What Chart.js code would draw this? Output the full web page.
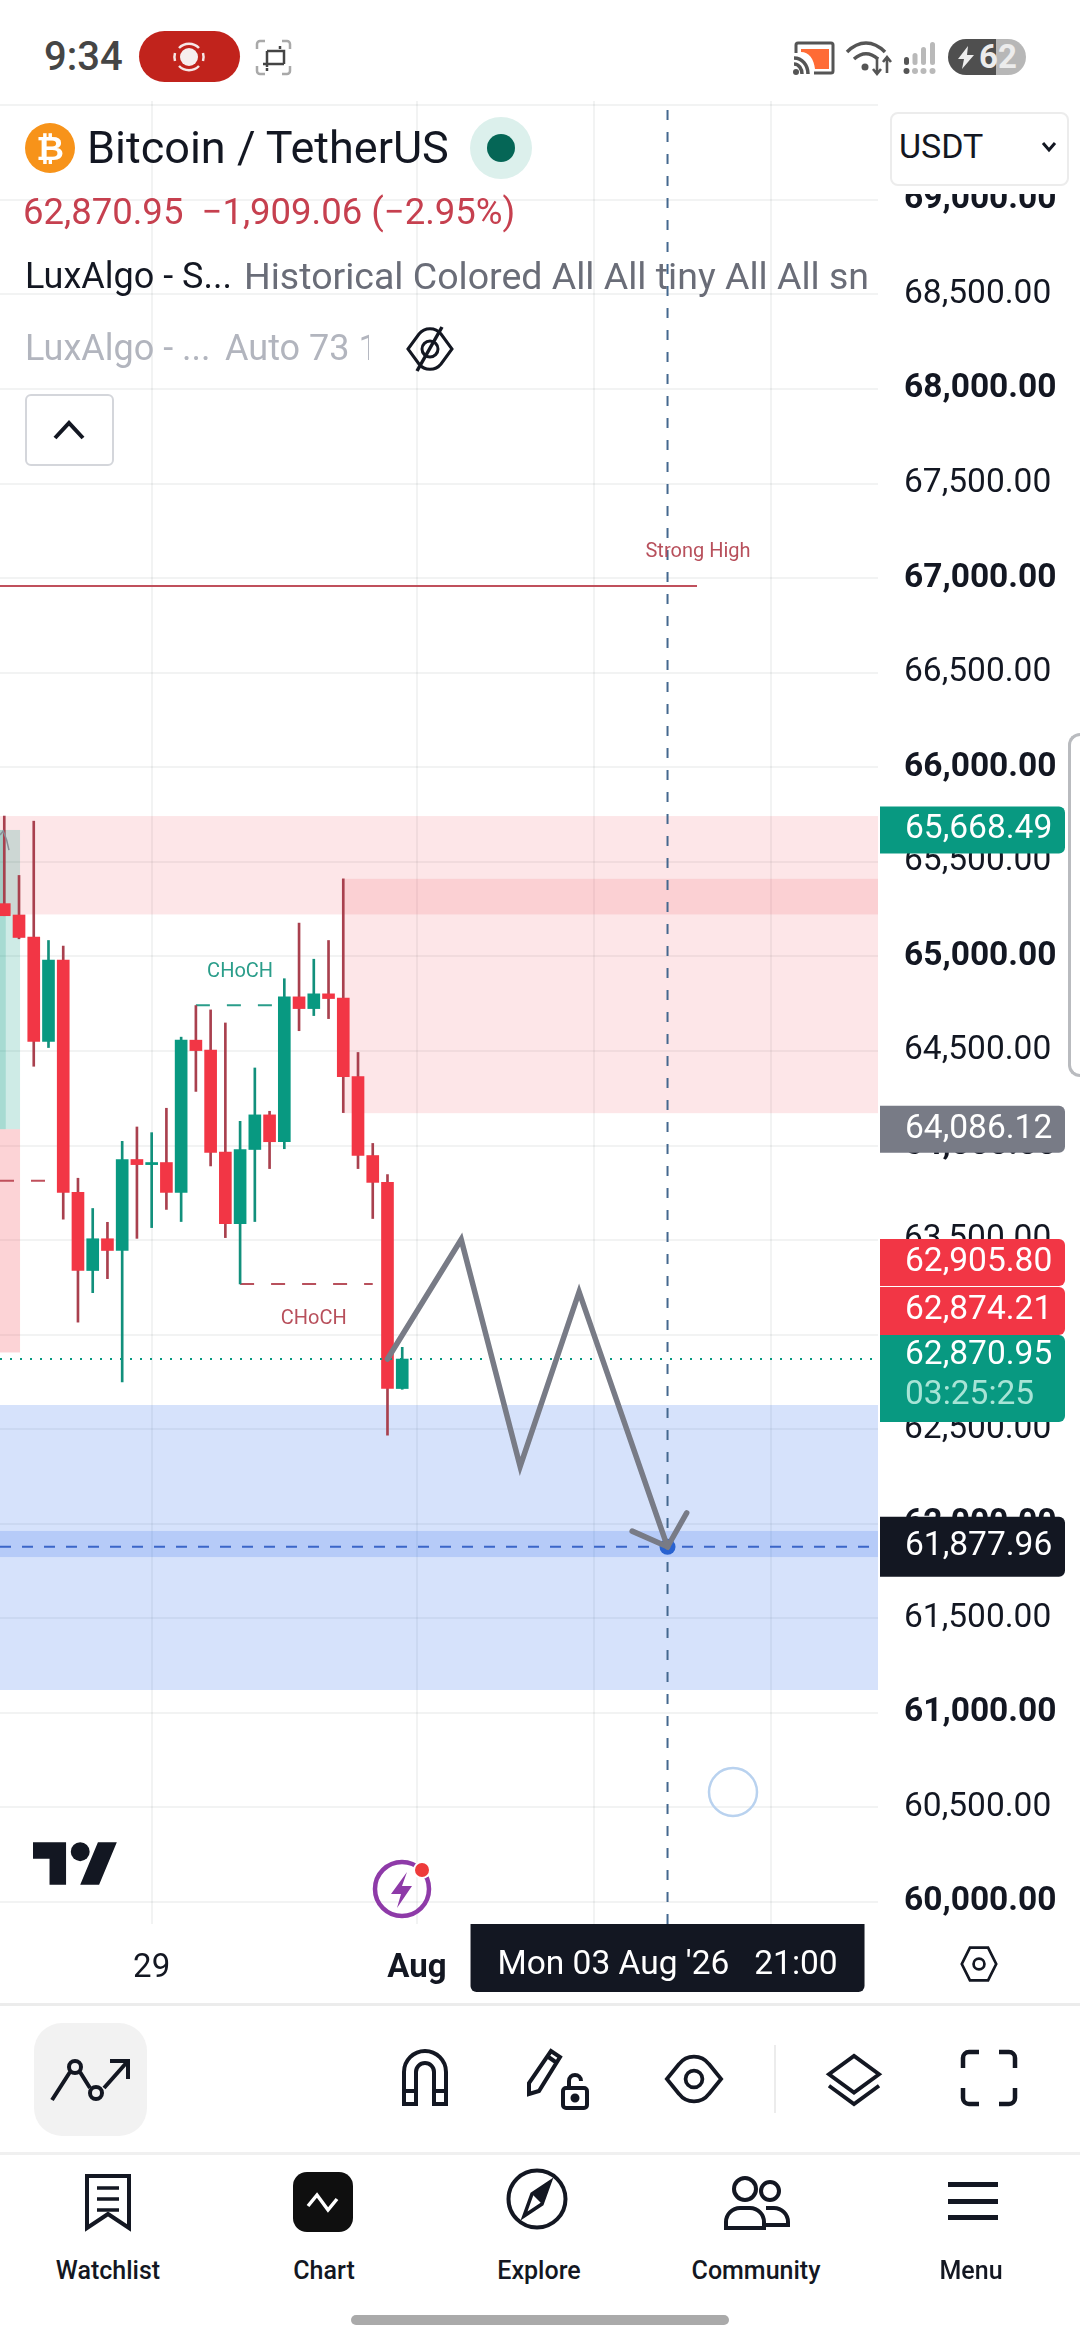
<!DOCTYPE html>
<html>
<head>
<meta charset="utf-8">
<title>Bitcoin / TetherUS</title>
<script src="https://cdn.jsdelivr.net/npm/chart.js@4"></script>
<style>
  html,body{margin:0;padding:0;background:#fff}
  body{width:1080px;height:2340px;position:relative;overflow:hidden;font-family:Roboto,sans-serif;color:#000}
  #pnl{position:absolute;left:0;top:101px;width:1080px;height:1899px}
  .a{position:absolute;white-space:nowrap}
  .c{transform:translate(-50%,-50%)}
  svg{position:absolute;overflow:visible;fill:none}
  .nav{font-size:25px;font-weight:500;top:2270px;color:#131722;line-height:1}
</style>
</head>
<body>
<canvas id="pnl" width="1080" height="1899"></canvas>

<!-- status bar -->
<div class="a" style="left:44px;top:34px;font-size:40px;font-weight:500;color:#454545;line-height:46px">9:34</div>
<div class="a" style="left:139px;top:31px;width:101px;height:51px;border-radius:26px;background:#c1231c"></div>
<svg style="left:170px;top:38px" width="38" height="38" viewBox="0 0 38 38" stroke="#f6e7e6" stroke-width="2.5">
  <circle cx="19" cy="19" r="9" fill="#f6eeee" stroke="none"/>
  <path d="M9 10a14 14 0 0 1 20 0M29 28a14 14 0 0 1-20 0M5 15a14 14 0 0 0 0 8M33 15a14 14 0 0 1 0 8"/>
</svg>
<svg style="left:256px;top:40px" width="35" height="35" viewBox="0 0 35 35" stroke="#a9a9a9" stroke-width="2.5">
  <path d="M1 9V4a3 3 0 0 1 3-3h5M26 1h5a3 3 0 0 1 3 3v5M34 26v5a3 3 0 0 1-3 3h-5M9 34H4a3 3 0 0 1-3-3v-5"/>
  <path d="M7 24h21M11 11h17v13M11 11v16M24 6v3M11 28v3" stroke="#444"/>
</svg>
<svg style="left:793px;top:41px" width="42" height="34" viewBox="0 0 42 34">
  <path d="M3 12V4a2 2 0 0 1 2-2h33a2 2 0 0 1 2 2v26a2 2 0 0 1-2 2H21" stroke="#555" stroke-width="3"/>
  <path d="M8 8h28v20H22C21 18 16 11 8 11z" fill="#ff6b35"/>
  <path d="M1 17c8 0 14 7 14 16M1 23c5 0 8 5 8 10" stroke="#555" stroke-width="3.5"/>
  <circle cx="3" cy="31" r="3" fill="#555"/>
</svg>
<svg style="left:845px;top:41px" width="48" height="36" viewBox="0 0 48 36" stroke="#555" stroke-width="3.5">
  <path d="M2 11c12-12 26-12 38 0M9 18c8-7 16-7 24 0"/>
  <circle cx="20" cy="26" r="3.5" fill="#555" stroke="none"/>
  <path d="M32 16v16M28 28l4 5 4-5M42 32V16M38 21l4-5 4 5" stroke-width="2.6"/>
</svg>
<svg style="left:904px;top:41px" width="32" height="34" viewBox="0 0 32 34">
  <g fill="#b9b9b9"><rect x="8.500" y="12" width="5" height="12" rx="2.500"/><rect x="17" y="6" width="5" height="18" rx="2.500"/><rect x="26" y="1" width="5" height="23" rx="2.500"/>
  <circle cx="11" cy="30" r="3"/><circle cx="19.500" cy="30" r="3"/><circle cx="28.500" cy="30" r="3"/></g>
  <rect x="0" y="16" width="5" height="8" rx="2.500" fill="#555"/><circle cx="2.500" cy="30" r="3" fill="#555"/>
</svg>
<div class="a" style="left:948px;top:39px;width:78px;height:36px;border-radius:18px;overflow:hidden;background:linear-gradient(90deg,#4f4f4f 0 62%,#b7b7b7 62% 100%)"></div>
<svg style="left:958px;top:46px" width="16" height="23" viewBox="0 0 16 23"><path d="M10 0L0 13h6l-2 10L16 9H9z" fill="#eee"/></svg>
<div class="a" style="left:979px;top:39px;font-size:33px;font-weight:700;line-height:36px;color:#ececec">62</div>

<!-- legend -->
<div class="a" style="left:25px;top:123px;width:50px;height:50px;border-radius:50%;background:#f7931a;color:#fff;font-size:34px;font-weight:700;text-align:center;line-height:50px">₿</div>
<div class="a" style="left:87px;top:122px;font-size:45px;line-height:52px;color:#131722" id="title">Bitcoin / TetherUS</div>
<div class="a" style="left:470px;top:117px;width:62px;height:62px;border-radius:50%;background:#dcf0ec"></div>
<div class="a" style="left:487px;top:134px;width:28px;height:28px;border-radius:50%;background:#056656"></div>
<div class="a" style="left:23px;top:190px;font-size:36.5px;line-height:44px;color:#c6404f;white-space:pre">62,870.95  −1,909.06 (−2.95%)</div>
<div class="a" style="left:25px;top:254px;font-size:36px;line-height:44px;color:#131722">LuxAlgo - S...</div>
<div class="a" style="left:244px;top:254px;width:625px;overflow:hidden;font-size:37.5px;line-height:44px;color:#6a6d78">Historical Colored All All tiny All All sn</div>
<div class="a" style="left:25px;top:326px;font-size:36px;line-height:44px;color:#b2b5be">LuxAlgo - ...</div>
<div class="a" style="left:225px;top:326px;width:144px;overflow:hidden;font-size:36px;line-height:44px;color:#b2b5be">Auto 73 1</div>
<svg style="left:405px;top:326px" width="50" height="46" viewBox="0 0 50 46" stroke="#131722" stroke-width="3">
  <path d="M3 23L14 8a14 14 0 0 1 22 0l11 15-11 15a14 14 0 0 1-22 0z"/>
  <circle cx="25" cy="23" r="8"/><path d="M37 1L12 45" stroke-width="3.500"/>
</svg>
<div class="a" style="left:25px;top:394px;width:85px;height:68px;border:2px solid #d4d6db;border-radius:6px;background:#fff"></div>
<svg style="left:53px;top:420px" width="32" height="20" viewBox="0 0 32 20" stroke="#131722" stroke-width="4"><path d="M2 18L16 3l14 15"/></svg>

<!-- currency box -->
<div class="a" style="left:880px;top:101px;width:200px;height:93px;background:#fff"></div>
<div class="a" style="left:890px;top:112px;width:175px;height:70px;border:2px solid #ececec;border-radius:8px;background:#fff"></div>
<div class="a" style="left:899px;top:124px;font-size:34px;line-height:44px;color:#131722">USDT</div>
<svg style="left:1041px;top:141px" width="16" height="12" viewBox="0 0 16 12" stroke="#131722" stroke-width="3"><path d="M2 2l6 7 6-7"/></svg>
<div class="a" style="left:1068px;top:733px;width:14px;height:338px;border:3px solid #b9bbbf;border-right:0;border-radius:12px 0 0 12px"></div>

<!-- watermark, bolt, touch mark -->
<svg style="left:33px;top:1842px" width="85" height="43" viewBox="0 4 36 18"><path d="M14 22H7V11H0V4h14v18zM28 22h-8l7.500-18h8L28 22z" fill="#131722"/><circle cx="20" cy="8" r="4" fill="#131722"/></svg>
<svg style="left:372px;top:1858px" width="62" height="62" viewBox="0 0 62 62">
  <circle cx="30" cy="31" r="27" stroke="#8e3aa8" stroke-width="4.500"/>
  <path d="M35 14L19 36h10l-4 14 15-22H30z" fill="#8e3aa8"/>
  <circle cx="50" cy="12" r="9" fill="#fff"/><circle cx="50" cy="12" r="7" fill="#ee3b3b"/>
</svg>
<svg style="left:708px;top:1767px" width="50" height="50" viewBox="0 0 50 50"><circle cx="25" cy="25" r="24" stroke="#b9d2ef" stroke-width="2.500"/></svg>
<svg style="left:960px;top:1944px" width="38" height="40" viewBox="0 0 42 40" stroke="#131722" stroke-width="3">
  <path d="M11 2h20l9 18-9 18H11L2 20z"/><circle cx="21" cy="20" r="6"/>
</svg>

<!-- toolbar -->
<div class="a" style="left:0;top:2003px;width:1080px;height:3px;background:#ececec"></div>
<div class="a" style="left:34px;top:2023px;width:113px;height:113px;border-radius:28px;background:#f2f2f2"></div>
<svg style="left:50px;top:2058px" width="80" height="46" viewBox="0 0 80 46" stroke="#131722" stroke-width="4">
  <path d="M2 42L20 14M30 14l10 16M54 30L78 3M60 3h18v18"/><circle cx="25" cy="9" r="6"/><circle cx="46" cy="35" r="6"/>
</svg>
<svg style="left:402px;top:2050px" width="46" height="56" viewBox="0 0 46 56" stroke="#131722" stroke-width="4">
  <path d="M2 54V22a21 21 0 0 1 42 0v32H32V22a9 9 0 0 0-18 0v32z"/><path d="M2 41h12M32 41h12"/>
</svg>
<svg style="left:527px;top:2048px" width="64" height="62" viewBox="0 0 64 62" stroke="#131722" stroke-width="4">
  <path d="M2 46V35L24 3l9 6-21 34zM20 8l10 7"/><rect x="36" y="40" width="24" height="20" rx="3"/><path d="M42 40v-7a6 6 0 0 1 12 0"/><circle cx="48" cy="50" r="2.500" fill="#131722"/>
</svg>
<svg style="left:665px;top:2056px" width="58" height="46" viewBox="0 0 62 46" stroke="#131722" stroke-width="4">
  <path d="M2 23L15 7a20 20 0 0 1 32 0l13 16-13 16a20 20 0 0 1-32 0z"/><circle cx="31" cy="23" r="9"/>
</svg>
<div class="a" style="left:774px;top:2045px;width:2px;height:68px;background:#ececec"></div>
<svg style="left:824px;top:2054px" width="60" height="52" viewBox="0 0 62 54" stroke="#131722" stroke-width="4">
  <path d="M31 2l26 19-26 19L5 21z"/><path d="M5 33l26 19 26-19"/>
</svg>
<svg style="left:961px;top:2050px" width="56" height="56" viewBox="0 0 56 56" stroke="#131722" stroke-width="4.500">
  <path d="M2 18V8a6 6 0 0 1 6-6h10M38 2h10a6 6 0 0 1 6 6v10M54 38v10a6 6 0 0 1-6 6H38M18 54H8a6 6 0 0 1-6-6V38"/>
</svg>
<div class="a" style="left:0;top:2152px;width:1080px;height:3px;background:#f0f0f0"></div>

<!-- bottom nav -->
<svg style="left:85px;top:2174px" width="46" height="58" viewBox="0 0 46 58" stroke="#131722" stroke-width="4">
  <path d="M2 2h42v52L23 40 2 54z"/><path d="M12 14h22M12 25h22M12 36h22" stroke-width="3.500"/>
</svg>
<div class="a" style="left:293px;top:2172px;width:60px;height:60px;border-radius:14px;background:#0f0f0f"></div>
<svg style="left:306px;top:2190px" width="34" height="24" viewBox="0 0 34 24" stroke="#fff" stroke-width="3.500"><path d="M2 16L11 5l11 15 9-11"/></svg>
<svg style="left:506px;top:2168px" width="62" height="62" viewBox="0 0 62 62">
  <circle cx="31" cy="31" r="28.500" stroke="#131722" stroke-width="4"/>
  <path d="M44 14L36 36 18 48l8-22z" stroke="#131722" stroke-width="3.500"/>
  <path d="M44 14L36 36 26 26z" fill="#131722"/>
</svg>
<svg style="left:724px;top:2176px" width="66" height="54" viewBox="0 0 66 54" stroke="#131722" stroke-width="4">
  <circle cx="21" cy="13" r="11"/><circle cx="46" cy="15" r="9"/>
  <path d="M2 52v-6a14 14 0 0 1 14-14h10a14 14 0 0 1 14 14v6zM42 32h8a14 14 0 0 1 14 14v3H42"/>
</svg>
<div class="a" style="left:948px;top:2182px;width:50px;height:5px;background:#131722;box-shadow:0 17px 0 #131722,0 33px 0 #131722"></div>
<div class="a c nav" style="left:108px">Watchlist</div>
<div class="a c nav" style="left:324px">Chart</div>
<div class="a c nav" style="left:539px">Explore</div>
<div class="a c nav" style="left:756px">Community</div>
<div class="a c nav" style="left:971px">Menu</div>
<div class="a" style="left:351px;top:2315px;width:378px;height:10px;border-radius:5px;background:#aaa"></div>

<script>
// 4h candles, index 0 is the first one visible at the left edge
const candleIdx = [0,1,2,3,4,5,6,7,8,9,10,11,12,13,14,15,16,17,18,19,20,21,22,23,24,25,26,27];
const opens  = [65279,65219,65102,64550,64981,63752,63339,63507,63445,63926,63899,63910,63752,64557,64504,63965,63587,63979,64162,64020,64786,64724,64802,64779,64364,63947,63805,62715];
const highs  = [65742,65428,65715,65084,65054,63827,63667,63594,64022,64098,64068,64197,64573,64740,64717,64648,64128,64410,64181,64882,65176,64985,65084,65410,64492,64011,63846,62933];
const lows   = [65215,65093,64419,64518,63610,63066,63222,63296,62750,63509,63566,63662,63598,64286,63892,63513,63268,63598,63878,63983,64607,64687,64671,64174,63878,63614,62468,62711];
const closes = [65215,65100,64550,64981,63752,63339,63507,63445,63926,63899,63910,63752,64557,64502,63963,63587,63979,64162,64020,64786,64724,64802,64777,64364,63947,63805,62715,62870.95];

// axes
const priceTicks = [60000,60500,61000,61500,62000,62500,63000,63500,64000,64500,65000,65500,66000,66500,67000,67500,68000,68500,69000,69500];
const dateTicks  = [10,28,40,52];
const dateLabels = ['29','Aug','',''];
const crosshairIdx = 45;
const crosshairPrice = 61877.96;
const crosshairLabel = "Mon 03 Aug '26   21:00";

// drawn path and its arrow head
const pathIdx    = [26,31,35,39,45];
const pathPrices = [62870.95,63503,62303,63226,61877.96];
const headIdx    = [42.6,45,46.3];
const headPrices = [61961,61877.96,62058];
const oldMarkIdx    = [-0.29,-0.07,0.16,0.32];
const oldMarkPrices = [65642,65663,65615,65562];

// SMC levels
const strongHighPrice = 66958;
const strongHighEnd = 47;
const chochUpIdx = [13,19],   chochUpPrice = 64742;
const chochDownIdx = [16,25], chochDownPrice = 63268;
const leftLevelIdx = [-0.29,4], leftLevelPrice = 63814;

// zones: [from index, to index, top price, bottom price]
const supplyZones = [[-0.29,59.28,65742,65222],[23,59.28,65410,64171]];
const demandZones = [[-0.29,59.28,62628,61121],[-0.29,59.28,61962,61824]];
const targetZones = [[-0.29,1.07,65668.49,64086.12],[-0.29,0.1,65668.49,64086.12]];
const stopZones   = [[-0.29,1.07,64086.12,62905.80]];

// price scale tags
const tagPrices = [65668.49,64086.12,62905.80,62874.21,62870.95,61877.96];
const tagLabels = ['65,668.49','64,086.12','62,905.80','62,874.21','62,870.95','61,877.96'];
const countdown = '03:25:25';

const UP = '#089981', DOWN = '#f23645';
const isUp = i => closes[i] >= opens[i];

const ctxEl = document.getElementById('pnl');

function lineSet(xs, ys, color, width, extra){
  return Object.assign({
    type:'line', data: xs.map((x,i)=>({x, y: Array.isArray(ys) ? ys[i] : ys})),
    borderColor: color, borderWidth: width, pointRadius: 0, tension: 0, fill: false
  }, extra || {});
}

// no edge padding, the chart runs to the canvas border like the app does
function noPad(s){ s.paddingLeft = s.paddingRight = s.paddingTop = s.paddingBottom = 0; }

const zonesPlugin = {
  id: 'zones',
  beforeDatasetsDraw(chart){
    const {ctx, chartArea: a, scales: {x, y}} = chart;
    const fillZones = (list, color) => list.forEach(z=>{
      ctx.fillStyle = color;
      const top = y.getPixelForValue(z[2]), bot = y.getPixelForValue(z[3]);
      ctx.fillRect(x.getPixelForValue(z[0]), top, x.getPixelForValue(z[1]) - x.getPixelForValue(z[0]), bot - top);
    });
    ctx.save();
    ctx.beginPath(); ctx.rect(a.left, a.top, a.width, a.height); ctx.clip();
    fillZones(supplyZones, 'rgba(242,54,69,0.125)');
    fillZones(demandZones, 'rgba(48,112,235,0.2)');
    fillZones(targetZones, 'rgba(8,153,129,0.2)');
    fillZones(stopZones, 'rgba(242,54,69,0.22)');
    ctx.restore();
  }
};

const tagsPlugin = {
  id: 'tags',
  afterDraw(chart){
    const {ctx, chartArea: a, scales: {x, y}} = chart;
    const tag = (top, h, color, radius) => {
      ctx.fillStyle = color;
      ctx.beginPath();
      ctx.roundRect(880, top, 185, h, radius);
      ctx.fill();
    };
    const label = (txt, cy, color) => {
      ctx.fillStyle = color;
      ctx.fillText(txt, 905, cy);
    };
    ctx.save();
    ctx.textBaseline = 'middle';

    // chart-side labels
    ctx.font = '20px Roboto';
    ctx.textAlign = 'center';
    ctx.fillStyle = '#b8505c';
    ctx.fillText('Strong High', x.getPixelForValue(strongHighEnd) + 1, y.getPixelForValue(strongHighPrice) - 34);
    ctx.fillStyle = '#2a9d8a';
    ctx.fillText('CHoCH', x.getPixelForValue(16), y.getPixelForValue(chochUpPrice) - 33);
    ctx.fillStyle = '#b8505c';
    ctx.fillText('CHoCH', x.getPixelForValue(21), y.getPixelForValue(chochDownPrice) + 35);

    ctx.font = '33.5px Roboto';
    ctx.textAlign = 'left';
    // tags centred on their price
    [[0,UP,47],[1,'#787b86',47],[5,'#131722',60]].forEach(([i,color,h])=>{
      const cy = y.getPixelForValue(tagPrices[i]);
      tag(cy - h/2, h, color, [0,6,6,0]);
      label(tagLabels[i], cy, '#fff');
    });
    // last price tag, the two red ones stack up on top of it
    const closeTop = y.getPixelForValue(tagPrices[4]) - 24;
    tag(closeTop, 87, UP, [0,6,6,0]);
    label(tagLabels[4], closeTop + 21, '#fff');
    label(countdown, closeTop + 61, '#a8e4d6');
    tag(closeTop - 48, 48, DOWN, [0,6,6,0]);
    label(tagLabels[3], closeTop - 24, '#fff');
    tag(closeTop - 96, 47, DOWN, [0,6,6,0]);
    label(tagLabels[2], closeTop - 72, '#fff');

    // crosshair time label
    const cx = x.getPixelForValue(crosshairIdx);
    ctx.fillStyle = '#131722';
    ctx.beginPath();
    ctx.roundRect(cx - 197, a.bottom, 394, 68, [0,0,6,6]);
    ctx.fill();
    ctx.fillStyle = '#fff';
    ctx.font = '33.5px Roboto';
    ctx.textAlign = 'center';
    ctx.fillText(crosshairLabel, cx, a.bottom + 42);
    ctx.restore();
  }
};

new Chart(ctxEl, {
  type: 'bar',
  plugins: [zonesPlugin, tagsPlugin],
  data: {
    datasets: [
      lineSet(oldMarkIdx, oldMarkPrices, '#8a8d96', 1.5, {order:1}),
      lineSet([-0.29,strongHighEnd], strongHighPrice, '#c0505c', 2, {order:1}),
      lineSet(chochUpIdx, chochUpPrice, '#2a9d8a', 2, {borderDash:[14,17], order:9}),
      lineSet(chochDownIdx, chochDownPrice, '#b8505c', 2, {borderDash:[14,17], order:9}),
      lineSet(leftLevelIdx, leftLevelPrice, '#c0505c', 2, {borderDash:[14,17], order:9}),
      lineSet([-0.29,59.28], closes[closes.length-1], UP, 2, {borderDash:[2,8], order:1}),
      lineSet([crosshairIdx,crosshairIdx], [59883.7,69522.9], '#44688f', 2, {borderDash:[10,12], order:0}),
      lineSet([-0.29,59.28], crosshairPrice, '#3b66c8', 2, {borderDash:[11,11], order:0}),
      lineSet([crosshairIdx], crosshairPrice, '#2962d0', 0, {pointRadius:8, pointBackgroundColor:'#2962d0', pointBorderWidth:0, order:-1}),
      lineSet(pathIdx, pathPrices, '#787b86', 5.5, {borderCapStyle:'round', borderJoinStyle:'miter', order:-2}),
      lineSet(headIdx, headPrices, '#787b86', 5.5, {borderCapStyle:'round', borderJoinStyle:'miter', order:-2}),
      { // wicks
        data: candleIdx.map(i=>({x:i, y:[lows[i],highs[i]]})),
        backgroundColor: candleIdx.map(i=> isUp(i) ? '#12907c' : '#a9404e'),
        barThickness: 2, grouped: false, order: 6
      },
      { // bodies
        data: candleIdx.map(i=>({x:i, y:[opens[i],closes[i]]})),
        backgroundColor: candleIdx.map(i=> isUp(i) ? UP : DOWN),
        barThickness: 12, grouped: false, order: 5
      }
    ]
  },
  options: {
    responsive: false,
    animation: false,
    devicePixelRatio: 1,
    layout: {padding: 0, autoPadding: false},
    plugins: {legend: {display:false}, tooltip: {enabled:false}},
    scales: {
      x: {
        type: 'linear', min: -0.29, max: 59.28, offset: false,
        grid: {color:'rgba(42,46,57,0.06)', lineWidth:2, drawTicks:false, offset:false},
        border: {display:false},
        afterBuildTicks: s => { s.ticks = dateTicks.map(v=>({value:v})); },
        afterFit: s => { s.height = 76; noPad(s); },
        ticks: {
          autoSkip:false, maxRotation:0, padding:25, color:'#131722',
          callback: v => dateLabels[dateTicks.indexOf(v)],
          font: c => ({family:'Roboto', size:33, weight: c.tick && c.tick.value === 28 ? 'bold' : 'normal'})
        }
      },
      y: {
        position: 'right', min: 59883.7, max: 69522.9,
        grid: {color:'rgba(42,46,57,0.06)', lineWidth:2, drawTicks:false},
        border: {display:false},
        afterBuildTicks: s => { s.ticks = priceTicks.map(v=>({value:v})); },
        afterFit: s => { s.width = 202; noPad(s); },
        ticks: {
          autoSkip:false, padding: 26, crossAlign: 'near', color:'#131722',
          callback: v => v.toLocaleString('en-US',{minimumFractionDigits:2, maximumFractionDigits:2}),
          font: c => ({family:'Roboto', size:33.5, weight: c.tick && c.tick.value % 1000 === 0 ? 'bold' : 'normal'})
        }
      }
    }
  }
});
</script>
</body>
</html>
